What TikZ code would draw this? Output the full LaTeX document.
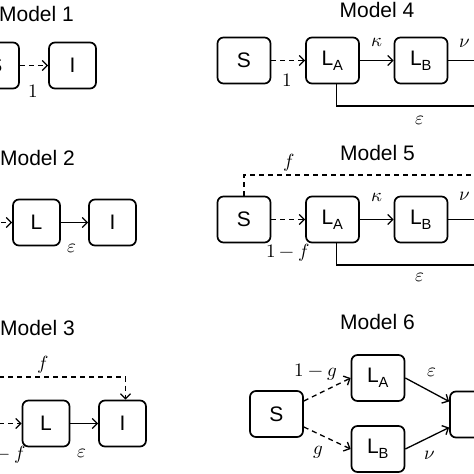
\documentclass[tikz,border=0pt]{standalone}
\usepackage{fontspec}
\usepackage{unicode-math}
\setmainfont{Liberation Sans}
\setmathfont{Latin Modern Math}
\usetikzlibrary{arrows.meta}
\begin{document}
\begin{tikzpicture}[x=1pt,y=-1pt,
 box/.style={draw, line width=1.7pt, rounded corners=6pt, minimum height=46pt, inner sep=0pt, font=\fontsize{21}{25}\selectfont},
 nbox/.style={box, minimum width=47pt},
 wbox/.style={box, minimum width=53pt},
 title/.style={anchor=base, font=\fontsize{21}{25}\selectfont, inner sep=0pt},
 lab/.style={font=\fontsize{19}{22}\selectfont, inner sep=0pt},
 flow/.style={line width=1.3pt, -{Straight Barb[length=5pt,width=10pt,line width=1.3pt]}},
 dflow/.style={flow, dash pattern=on 5pt off 4pt},
 dline/.style={line width=1.3pt, dash pattern=on 5pt off 4pt},
 sline/.style={line width=1.3pt}]
\useasboundingbox (0,0) rectangle (474,474);
\clip (0,0) rectangle (474,474);
% Model 1
\node[title] (t1) at (36.5,21) {Model 1};
\node[nbox] (S1) at (-4.5,65.5) {S};
\node[nbox] (I1) at (72.5,65.5) {I};
\draw[dflow] (S1) -- (I1);
\node[lab] (l1) at (33,91) {$1$};
% Model 2
\node[title] (t2) at (37.5,165) {Model 2};
\coordinate (S2) at (-17,222.5);
\node[nbox] (L2) at (36.5,222.5) {L};
\node[nbox] (I2) at (112.5,222.5) {I};
\draw[dflow] (S2) -- (L2);
\draw[flow] (L2) -- (I2);
\node[lab] (l2a) at (-3,250) {$1$};
\node[lab] (l2b) at (72,248) {$\varepsilon$};
% Model 3
\node[title] (t3) at (37.5,335) {Model 3};
\node[nbox] (L3) at (46,423.5) {L};
\node[nbox] (I3) at (122.5,423.5) {I};
\coordinate (S3) at (-10,423.5);
\coordinate (F3) at (-10,377);
\draw[dflow] (S3) -- (L3);
\draw[flow] (L3) -- (I3);
\draw[dflow] (F3) -| ([xshift=3pt]I3.north);
\node[lab] (l3a) at (43,365) {$f$};
\node[lab, anchor=east] (l3b) at (26,455) {$1-f$};
\node[lab] (l3c) at (82,453) {$\varepsilon$};
% Model 4
\node[title] (t4) at (377,17) {Model 4};
\node[wbox] (S4) at (244,60.5) {S};
\node[wbox] (LA4) at (332.5,60.5) {L\textsubscript{A}};
\node[wbox] (LB4) at (421,60.5) {L\textsubscript{B}};
\coordinate (I4) at (490,60.5);
\coordinate (E4) at (490,106);
\draw[dflow] (S4) -- (LA4);
\draw[flow] (LA4) -- (LB4);
\draw[sline] (LB4) -- (I4);
\draw[sline] ([xshift=4pt]LA4.south) |- (E4);
\node[lab] (l4a) at (287,80) {$1$};
\node[lab] (l4b) at (377,42) {$\kappa$};
\node[lab] (l4c) at (465,43) {$\nu$};
\node[lab] (l4d) at (420,120) {$\varepsilon$};
% Model 5
\node[title] (t5) at (377.5,160) {Model 5};
\node[wbox] (S5) at (244,219.5) {S};
\node[wbox] (LA5) at (332.5,219.5) {L\textsubscript{A}};
\node[wbox] (LB5) at (421,219.5) {L\textsubscript{B}};
\coordinate (I5) at (490,219.5);
\coordinate (E5) at (490,265);
\coordinate (F5) at (490,175);
\draw[dflow] (S5) -- (LA5);
\draw[flow] (LA5) -- (LB5);
\draw[sline] (LB5) -- (I5);
\draw[sline] ([xshift=4pt]LA5.south) |- (E5);
\draw[dline] (S5.north) |- (F5);
\node[lab] (l5a) at (289,163) {$f$};
\node[lab] (l5b) at (288,253) {$1-f$};
\node[lab] (l5c) at (377,197) {$\kappa$};
\node[lab] (l5d) at (465,196) {$\nu$};
\node[lab] (l5e) at (420,277) {$\varepsilon$};
% Model 6
\node[title] (t6) at (377.5,329) {Model 6};
\node[wbox] (S6) at (276.5,414) {S};
\node[wbox] (LA6) at (378,378) {L\textsubscript{A}};
\node[wbox] (LB6) at (378,449) {L\textsubscript{B}};
\node[wbox] (I6) at (476.5,414.5) {I};
\draw[dflow] ([yshift=13pt]S6.east) -- (LA6.west);
\draw[dflow] ([yshift=-13pt]S6.east) -- (LB6.west);
\draw[flow] (LA6.east) -- ([yshift=13pt]I6.west);
\draw[flow] (LB6.east) -- ([yshift=-13pt]I6.west);
\node[lab] (l6a) at (316,372) {$1-g$};
\node[lab] (l6b) at (318,452) {$g$};
\node[lab] (l6c) at (432,372) {$\varepsilon$};
\node[lab] (l6d) at (430,455) {$\nu$};
\end{tikzpicture}
\end{document}
